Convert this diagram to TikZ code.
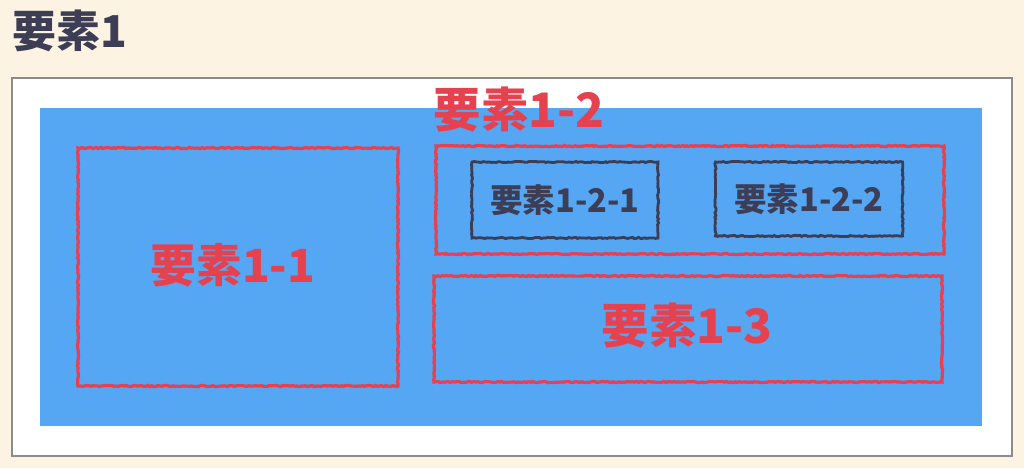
\documentclass[tikz,border=0pt]{standalone}
\usepackage{fontspec}
\usetikzlibrary{decorations.pathmorphing}
\newfontfamily\cjk{Noto Sans CJK JP}[BoldFont={Noto Sans CJK JP Black}]
\definecolor{cream}{HTML}{FDF3E2}
\definecolor{skyblue}{HTML}{55A6F3}
\definecolor{redpen}{HTML}{E5414F}
\definecolor{inkdark}{HTML}{3D3D55}
\tikzset{
  chalk/.style={draw=#1, line width=1.8pt, decorate,
    decoration={random steps, segment length=1.2pt, amplitude=0.35pt},
    inner sep=0pt},
  redbox/.style={chalk=redpen, text=redpen, font=\cjk\bfseries\fontsize{26}{26}\selectfont},
  darkbox/.style={chalk=inkdark, line width=1.6pt, text=inkdark, font=\cjk\bfseries\fontsize{18.5}{18.5}\selectfont}
}
\pgfmathsetseed{7}
\begin{document}
\begin{tikzpicture}[x=0.02cm, y=-0.02cm]
\useasboundingbox[fill=cream] (0,0) rectangle (1024,468);
% title
\node[anchor=west, inner sep=0pt, text=inkdark, font=\cjk\bfseries\fontsize{25}{25}\selectfont] (title) at (12,31) {要素1};
% frames
\draw[fill=white, draw=gray!90, line width=1.2pt] (12,78) rectangle (1012,456);
\fill[skyblue] (40,108) rectangle (982,426);
% boxes
\node[redbox, minimum width=320*0.02cm, minimum height=238*0.02cm] (e11) at (238,267) {};
\node[text=redpen, font=\cjk\bfseries\fontsize{26}{26}\selectfont] (e11label) at (233,265) {要素1-1};
\node[chalk=redpen, minimum width=508*0.02cm, minimum height=108*0.02cm] (e12) at (690,200) {};
\node[text=redpen, font=\cjk\bfseries\fontsize{27}{27}\selectfont] (e12label) at (519,110) {要素1-2};
\node[darkbox, minimum width=186*0.02cm, minimum height=76*0.02cm] (e121) at (565,200) {要素1-2-1};
\node[darkbox, minimum width=187*0.02cm, minimum height=74*0.02cm] (e122) at (809,199) {要素1-2-2};
\node[redbox, minimum width=508*0.02cm, minimum height=106*0.02cm] (e13) at (688,329) {};
\node[text=redpen, font=\cjk\bfseries\fontsize{27}{27}\selectfont] (e13label) at (687,326) {要素1-3};
\end{tikzpicture}
\end{document}
